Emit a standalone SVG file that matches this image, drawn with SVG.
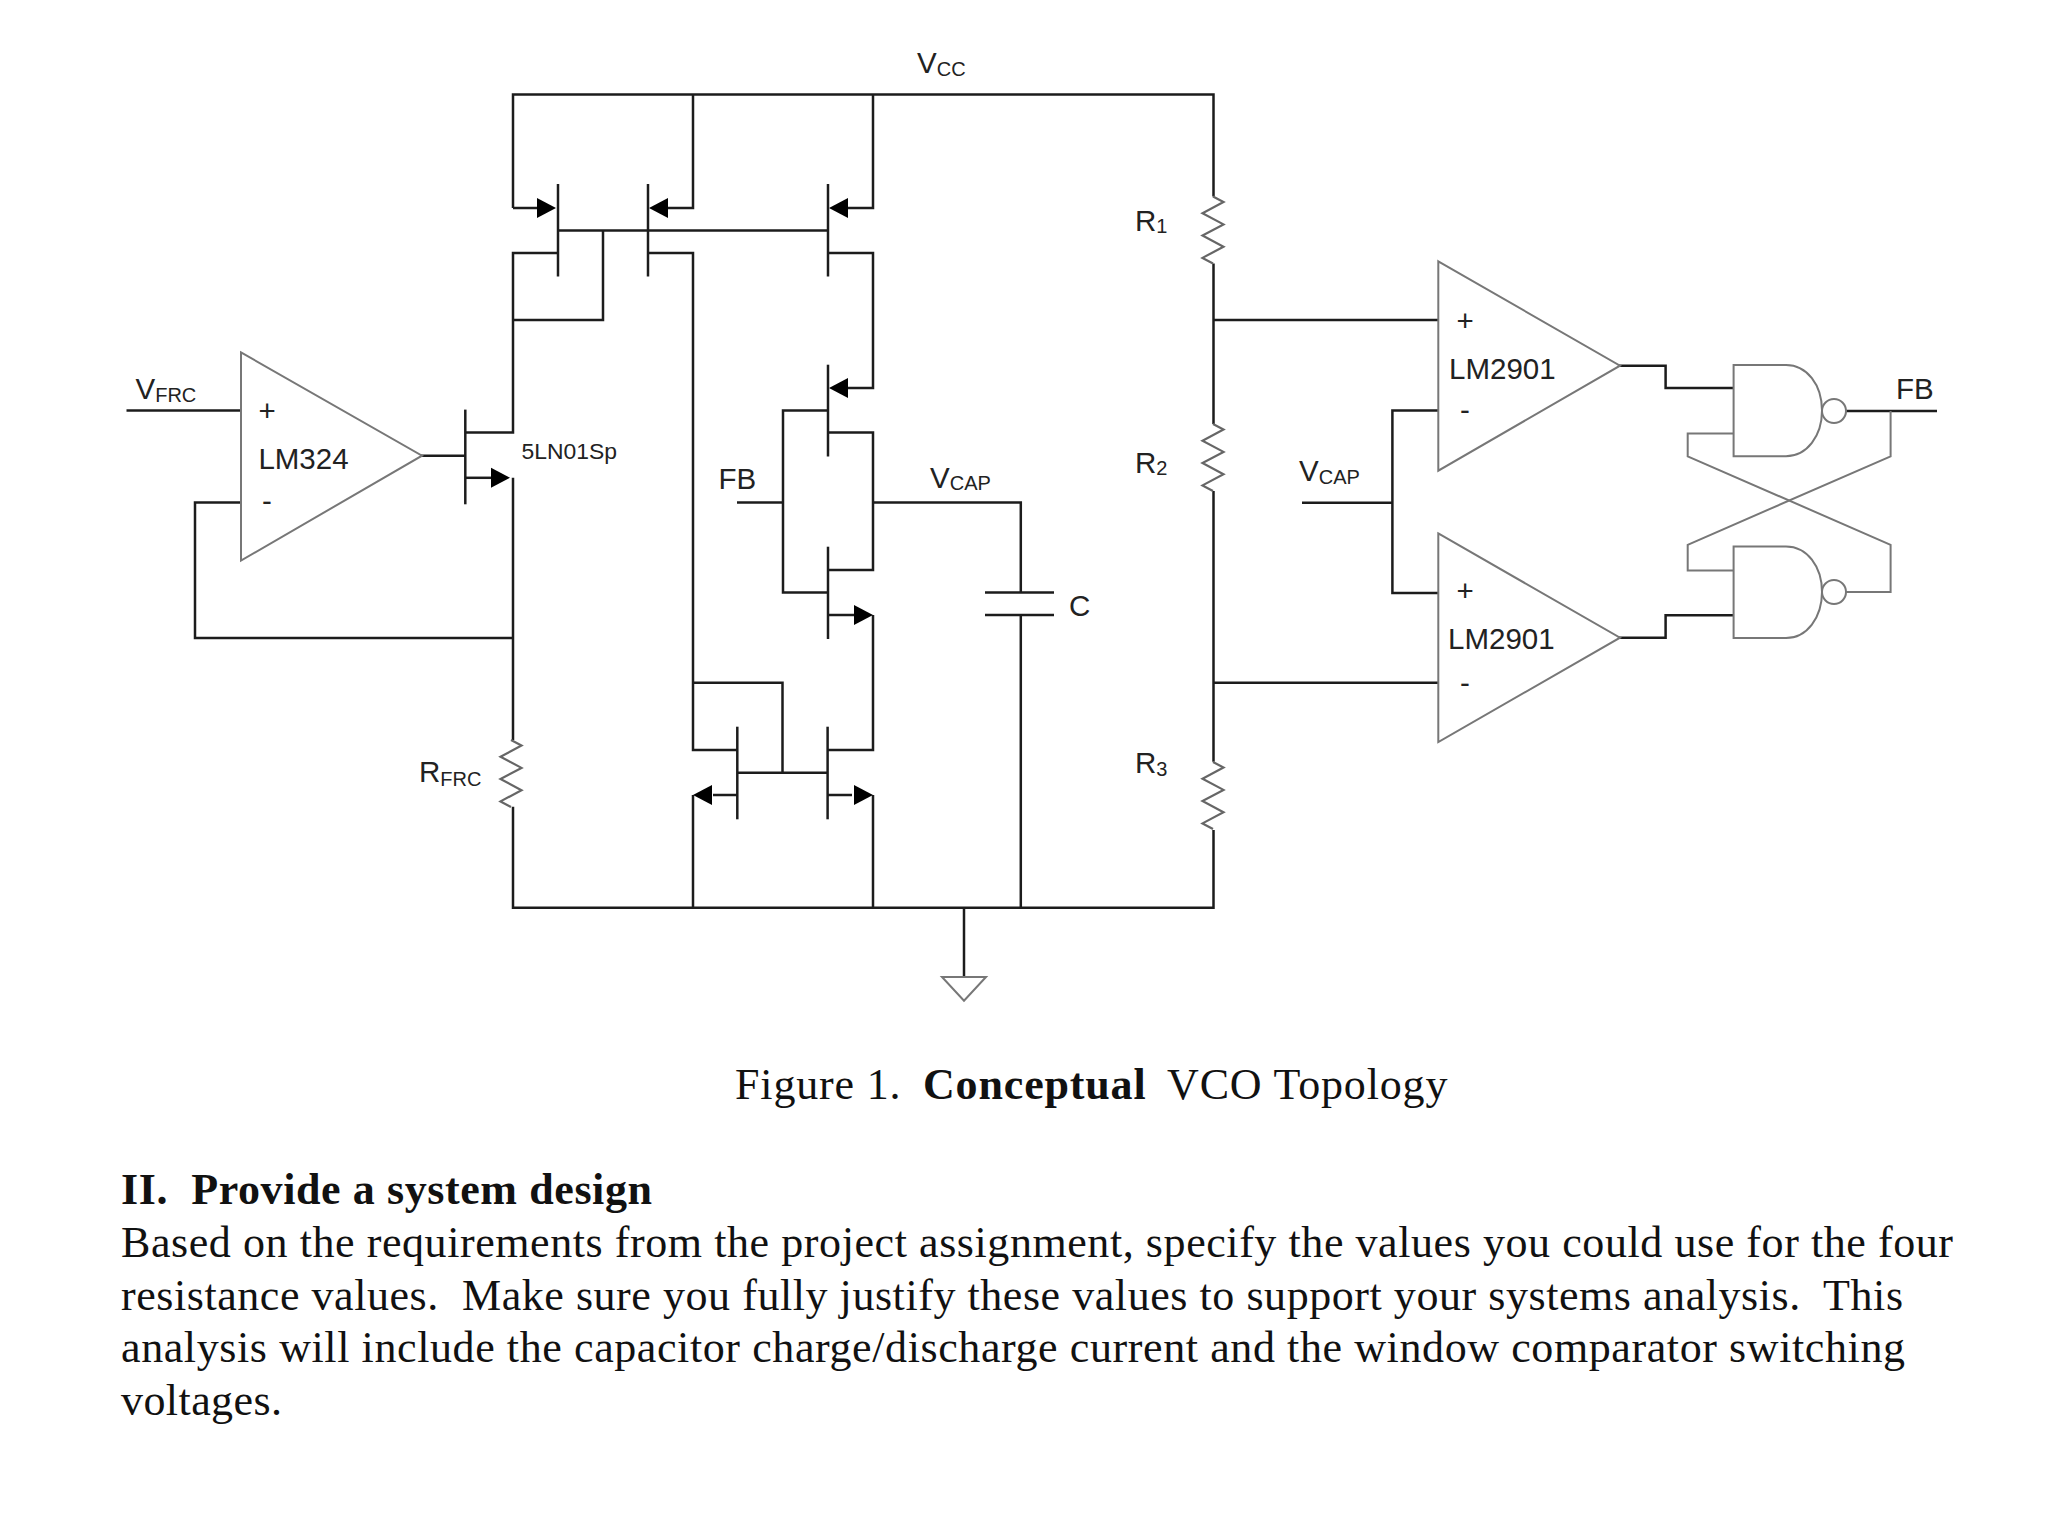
<svg xmlns="http://www.w3.org/2000/svg" width="2048" height="1527" viewBox="0 0 2048 1527">
<style>
.w{fill:none;stroke:#1c1c1c;stroke-width:2.5}
.g{fill:none;stroke:#777;stroke-width:2}
.z{fill:none;stroke:#666;stroke-width:2.2}
.a{fill:#000;stroke:none}
text{white-space:pre}
.s{font-family:"Liberation Sans",Arial,sans-serif;font-size:29.5px;fill:#222;stroke:none}
.s tspan{font-size:20px}
.m{text-anchor:middle}
.t{font-family:"Liberation Serif","Times New Roman",serif;font-size:44px;fill:#111}
.b{font-weight:bold}
</style>
<defs>
<path id="ar" d="M0 0L-19-10V10Z"/>
<path id="al" d="M0 0L19-10V10Z"/>
<path id="zz" d="M0 0L10.5 5.5L-10.5 16.7L10.5 27.9L-10.5 39L10.5 50.2L-10.5 61.4L0 67"/>
</defs>
<rect width="2048" height="1527" fill="#fff"/>
<g id="connectors" class="w">
<path d="M513 208V94.5H1213.5V196.5"/>
<path d="M693 94.5V208H667"/>
<path d="M873 94.5V208H848"/>
<path d="M513 208H540"/>
<path d="M558 230.4H828"/>
<path d="M603 230.4V320H513"/>
<path d="M558 253H513V432.4H465.3"/>
<path d="M648 253H693V750H737"/>
<path d="M828 253H873V388H848"/>
<path d="M828 432.4H873V570H828"/>
<path d="M828 410.4H783V592.4H828"/>
<path d="M737 502.6H783"/>
<path d="M873 502.6H1020.8V592.4"/>
<path d="M985 592.4H1054M985 615H1054"/>
<path d="M1020.8 615V907.7"/>
<path d="M873 615V750H828"/>
<path d="M693 682.7H782.5V772.7"/>
<path d="M737 772.7H828"/>
<path d="M693 795V907.7M873 795V907.7"/>
<path d="M513 806.7V907.7H1213.5V830"/>
<path d="M964 907.7V977"/>
<path d="M513 477.8V740"/>
<path d="M513 638H195V502.6H241"/>
<path d="M126.5 410.4H241"/>
<path d="M420.4 455.7H465.3"/>
<path d="M465.3 477.8H492"/>
<path d="M828 615H854"/>
<path d="M737 795H713M828 795H852"/>
<path d="M1213.5 263.5V424M1213.5 491V761.7"/>
<path d="M1213.5 320H1438.3"/>
<path d="M1213.5 682.8H1438.3"/>
<path d="M1302 502.7H1392.4"/>
<path d="M1438.3 410.5H1392.4V593H1438.3"/>
<path d="M1617.9 365.7H1665.6V388H1733.6"/>
<path d="M1617.9 637.7H1665.6V615.3H1733.6"/>
<path d="M1846 411H1937"/>
</g>
<g id="crosscouple" class="g">
<path d="M1890.6 411V456.3L1687.7 544.8V570.6H1733.6"/>
<path d="M1733.6 433.5H1687.7V456.3L1890.6 544.8V592H1846"/>
</g>
<g id="M1" class="w"><path d="M558 184V276.5"/><use href="#ar" x="556" y="208" class="a"/></g>
<g id="M2" class="w"><path d="M648 184V276.5"/><use href="#al" x="649" y="208" class="a"/></g>
<g id="M3" class="w"><path d="M828 184V276.5"/><use href="#al" x="829" y="208" class="a"/></g>
<g id="M4" class="w"><path d="M828 364.7V456.5"/><use href="#al" x="829" y="388" class="a"/></g>
<g id="M5" class="w"><path d="M828 546.7V639"/><use href="#ar" x="873" y="615" class="a"/></g>
<g id="M6" class="w"><path d="M737.3 726.7V819.3"/><use href="#al" x="693" y="795" class="a"/></g>
<g id="M7" class="w"><path d="M827.6 726.7V819.3"/><use href="#ar" x="873" y="795" class="a"/></g>
<g id="Q0" class="w"><path d="M465.3 409.6V504.3"/><use href="#ar" x="510" y="477.8" class="a"/><text class="s" x="521.6" y="459.4" style="font-size:22.9px">5LN01Sp</text></g>
<g id="opamp-lm324"><path class="g" d="M241 352.4L422 455.7L241 560.6Z"/><text class="s m" x="267" y="420.5">+</text><text class="s" x="258.4" y="469">LM324</text><text class="s m" x="267" y="511">-</text></g>
<g id="comp-1"><path class="g" d="M1438.3 261.3L1620 365.7L1438.3 470.7Z"/><text class="s m" x="1465" y="330.5">+</text><text class="s" x="1449" y="378.8">LM2901</text><text class="s m" x="1465" y="420">-</text></g>
<g id="comp-2"><path class="g" d="M1438.3 533.4L1620 637.7L1438.3 742Z"/><text class="s m" x="1465" y="600.5">+</text><text class="s" x="1448" y="648.7">LM2901</text><text class="s m" x="1465" y="693">-</text></g>
<g id="nand-1" class="g"><path d="M1786 365H1733.6V456.3H1786C1807 456.3 1822 436 1822 410.6C1822 385 1807 365 1786 365Z"/><circle cx="1834" cy="411" r="12"/></g>
<g id="nand-2" class="g"><path d="M1786 546.5H1733.6V638H1786C1807 638 1822 617.5 1822 592C1822 566.5 1807 546.5 1786 546.5Z"/><circle cx="1834" cy="592" r="12"/></g>
<g id="R1"><use href="#zz" x="1213" y="196.5" class="z"/><text class="s" x="1135" y="230.8">R<tspan dy="2">1</tspan></text></g>
<g id="R2"><use href="#zz" x="1213" y="424" class="z"/><text class="s" x="1135" y="473">R<tspan dy="2">2</tspan></text></g>
<g id="R3"><use href="#zz" x="1213" y="762" class="z"/><text class="s" x="1135" y="773">R<tspan dy="3">3</tspan></text></g>
<g id="RFRC"><use href="#zz" x="511" y="740" class="z"/><text class="s" x="419" y="781.7">R<tspan dy="4">FRC</tspan></text></g>
<g id="C"><text class="s" x="1069" y="615.7">C</text></g>
<g id="ground"><path class="g" d="M942 977H986L964 1000.7Z"/></g>
<g id="labels">
<text class="s" x="135.5" y="399">V<tspan dy="3">FRC</tspan></text>
<text class="s" x="917" y="73">V<tspan dy="3">CC</tspan></text>
<text class="s" x="718.5" y="489">FB</text>
<text class="s" x="930" y="488">V<tspan dy="2.4">CAP</tspan></text>
<text class="s" x="1299" y="481">V<tspan dy="3">CAP</tspan></text>
<text class="s" x="1896" y="399">FB</text>
</g>
<g id="caption">
<text class="t" x="735" y="1099" textLength="705">Figure 1.  <tspan class="b" x="923">Conceptual</tspan><tspan x="1156"> VCO Topology</tspan></text>
<text class="t b" x="121" y="1204" textLength="531">II.  Provide a system design</text>
<text class="t" x="121" y="1256.5" textLength="1832">Based on the requirements from the project assignment, specify the values you could use for the four</text>
<text class="t" x="121" y="1309.5" textLength="1782">resistance values.  Make sure you fully justify these values to support your systems analysis.  This</text>
<text class="t" x="121" y="1361.5" textLength="1784">analysis will include the capacitor charge/discharge current and the window comparator switching</text>
<text class="t" x="121" y="1414.5" textLength="161">voltages.</text>
</g>
</svg>
